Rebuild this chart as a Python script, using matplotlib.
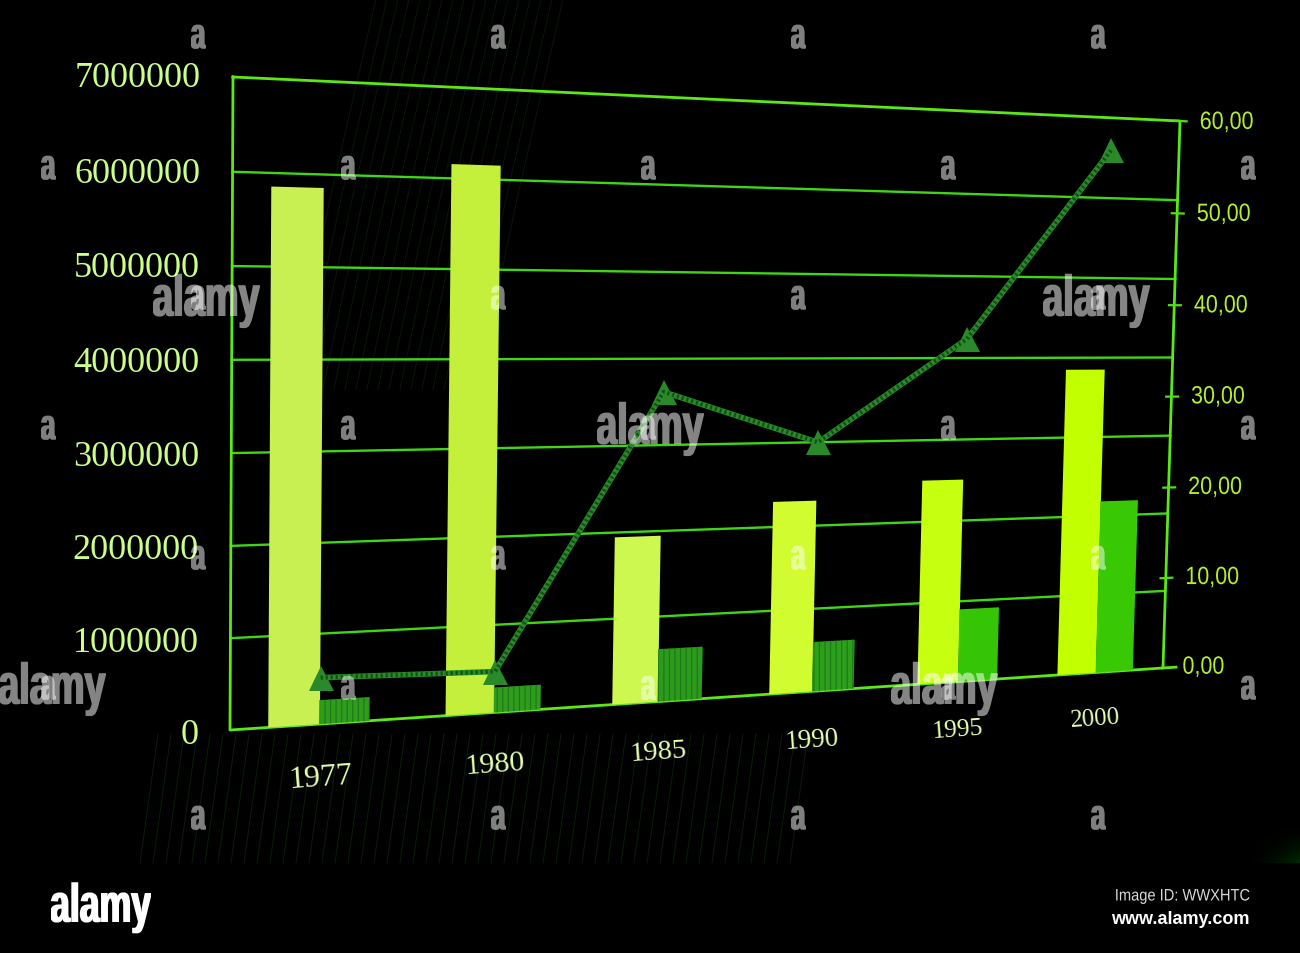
import numpy as np
import matplotlib
matplotlib.use("Agg")
import matplotlib.pyplot as plt
from matplotlib.transforms import Transform, Affine2D
from matplotlib.patheffects import AbstractPathEffect

# DATA
years = ["1977", "1980", "1985", "1990", "1995", "2000"]
left_ticks = [0, 1000000, 2000000, 3000000, 4000000, 5000000, 6000000, 7000000]
right_ticks = [0, 10, 20, 30, 40, 50, 60]
series_a = [5855000, 6157000, 1945000, 2300000, 2506000, 3850000]
series_b = [265000, 285000, 617000, 597000, 900000, 2183000]
series_line = [4.4, 4.0, 31.0, 25.7, 36.3, 56.6]

colors_a = ["#c8f052", "#c4f03c", "#ccf850", "#d0fc30", "#c6ff10", "#c2ff00"]
colors_b = ["#2f9c1e", "#2f9c1e", "#2c9a1c", "#2ca01c", "#36c406", "#38c804"]
year_sizes = [23, 21.6, 20.5, 19.4, 18.4, 17.8]


# screen photo: the chart plane is seen in perspective
class Perspective(Transform):
    input_dims = 2
    output_dims = 2

    def __init__(self, corners):
        super().__init__()
        src = [(0, 0), (1, 0), (1, 1), (0, 1)]
        rows, rhs = [], []
        for (u, v), (x, y) in zip(src, corners):
            rows.append([u, v, 1, 0, 0, 0, -u * x, -v * x])
            rows.append([0, 0, 0, u, v, 1, -u * y, -v * y])
            rhs += [x, y]
        self.m = np.append(np.linalg.solve(rows, rhs), 1).reshape(3, 3)

    def transform_non_affine(self, values):
        pts = np.column_stack([values, np.ones(len(values))])
        out = pts @ self.m.T
        return out[:, :2] / out[:, 2:]


# no condensed font installed, so squeeze the glyphs around x = cx
class Squeeze(AbstractPathEffect):
    def __init__(self, sx, cx):
        super().__init__()
        self.sx = sx
        self.cx = cx

    def draw_path(self, renderer, gc, tpath, affine, rgbFace=None):
        t = affine + Affine2D().translate(-self.cx, 0).scale(self.sx, 1).translate(self.cx, 0)
        renderer.draw_path(gc, tpath, t, rgbFace)


# squeezed stems get thin, widen them again
def fatten(img, dpi):
    out = img.copy()
    out[:, 1:] = np.maximum(out[:, 1:], img[:, :-1])
    out[:, :-1] = np.maximum(out[:, :-1], img[:, 1:])
    return out, 0, 0


plt.rcParams["hatch.linewidth"] = 0.9
fig = plt.figure(figsize=(13, 9.54), dpi=100, facecolor="black")
ax = fig.add_axes([0, 0, 1, 1])
ax.set_xlim(0, 1300)
ax.set_ylim(954, 0)
ax.axis("off")

plane = Perspective([(230, 731), (1163, 669), (1180, 122), (233, 78)])
left = Affine2D().scale(1 / 6, 1 / 7000000) + plane + ax.transData
right = Affine2D().scale(1 / 6, 1 / 60) + plane + ax.transData

# moire lines of the photographed screen
for x0 in np.arange(330, 520, 11):
    ax.plot([x0 + 46, x0, x0 - 40], [0, 200, 390], color="#3c8c3c", lw=0.7, alpha=0.16, zorder=1)
for x0 in np.arange(140, 800, 13):
    ax.plot([x0 + 18, x0], [735, 864], color="#3c8c3c", lw=0.7, alpha=0.2, zorder=1)
glow = np.zeros((30, 40, 4))
glow[..., 1] = 0.4
glow[..., 3] = 0.4 * (np.linspace(0, 1, 40).reshape(1, -1) * np.linspace(0, 1, 30).reshape(-1, 1)) ** 2
ax.imshow(glow, extent=(1240, 1300, 864, 820), aspect="auto", zorder=1)
ax.set_xlim(0, 1300)
ax.set_ylim(954, 0)

# grid and frame
for v in left_ticks[1:-1]:
    ax.plot([0, 6], [v, v], color="#3fd614", lw=1.7, transform=left, zorder=2)
ax.plot([0, 6, 6, 0, 0], [7000000, 7000000, 0, 0, 7000000], color="#5ce814", lw=2, transform=left, zorder=2)
ax.plot([6, 6.1], [0, 0], color="#5ce814", lw=2, transform=left, zorder=2)
for v in right_ticks[1:]:
    ax.plot([5.96, 6.05], [v, v], color="#4ee014", lw=1.6, transform=right, zorder=2)

# bars
pos = np.arange(6)
bars_a = ax.bar(pos + 0.35, series_a, width=0.285, color=colors_a, linewidth=0, transform=left, zorder=3)
bars_b = ax.bar(pos + 0.63, series_b, width=0.28, color=colors_b, edgecolor="#1e7a16", linewidth=0, transform=left, zorder=3)
for b in bars_b[:4]:
    b.set_hatch("|||")

# line on the right scale
line_x = pos + 0.495
ax.plot(line_x, series_line, color="#2a8a2a", lw=4, marker="^", markersize=18, markeredgewidth=0, transform=right, zorder=4)
ax.plot(line_x, series_line, color="#0e5212", lw=3, linestyle=(0, (0.5, 0.7)), transform=right, zorder=5)

# tick labels
for v in left_ticks:
    ax.text(-0.17, v - 25000, str(v), family="Liberation Serif", fontsize=26, color="#ccff88", ha="right", va="center", transform=left, zorder=6)
for v in right_ticks:
    cx = right.transform((6.15, v))[0]
    ax.text(6.15, v, f"{v},00", family="Liberation Sans", fontsize=18, color="#b4f02a", ha="left", va="center", transform=right, zorder=6, path_effects=[Squeeze(0.86, cx)])
for i, (name, size) in enumerate(zip(years, year_sizes)):
    ax.text(i + 0.5, -590000, name, family="Liberation Serif", fontsize=size, color="#e6ffb0", rotation=4, rotation_mode="anchor", ha="center", va="center", transform=left, zorder=6)

# watermark
for row, yp in enumerate([38, 169, 299, 429, 559, 689, 819]):
    start = 198 if row % 2 == 0 else 48
    for xp in np.arange(start, 1300, 300):
        t = ax.text(xp, yp, "a", family="Liberation Sans", weight="bold", fontsize=32, color="white", alpha=0.5, ha="center", va="center", zorder=7, path_effects=[Squeeze(0.6, xp)])
        t.set_agg_filter(fatten)
for xp, yp in [(206, 302), (1096, 302), (650, 430), (52, 690), (944, 690)]:
    t = ax.text(xp, yp, "alamy", family="Liberation Sans", weight="bold", fontsize=42, color="white", alpha=0.52, ha="center", va="center", zorder=7, path_effects=[Squeeze(0.65, xp)])
    t.set_agg_filter(fatten)

# footer
t = ax.text(50, 909, "alamy", family="Liberation Sans", weight="bold", fontsize=39.5, color="white", ha="left", va="center", path_effects=[Squeeze(0.65, 50)])
t.set_agg_filter(fatten)
ax.text(1250, 897, "Image ID: WWXHTC", family="Liberation Sans", fontsize=12, color="#d8d8d8", ha="right", va="center", path_effects=[Squeeze(0.88, 1250)])
ax.text(1250, 920, "www.alamy.com", family="Liberation Sans", weight="bold", fontsize=13, color="white", ha="right", va="center")

fig.savefig("out.png", dpi=100, facecolor="black")
